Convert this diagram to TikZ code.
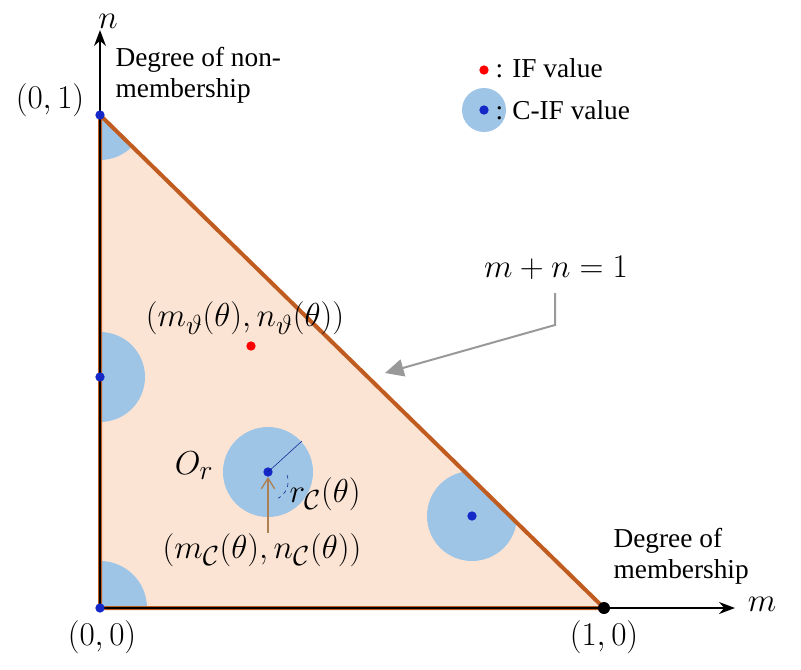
\documentclass[tikz,border=0pt]{standalone}
\usepackage{fontspec}
\setmainfont{Liberation Serif}
\usepackage{amsmath}
\usetikzlibrary{arrows.meta}
\definecolor{peach}{RGB}{252,228,212}
\definecolor{edge}{RGB}{192,92,32}
\definecolor{disc}{RGB}{158,196,230}
\definecolor{dotb}{RGB}{20,40,200}
\tikzset{txt/.style={font=\fontsize{20.5}{23}\selectfont, align=left, inner sep=1pt},
 mth/.style={font=\fontsize{28.5}{31}\selectfont, inner sep=1pt},
 bdot/.style={circle,fill=dotb,inner sep=0pt,minimum size=7pt},
 cdisc/.style={fill=disc}}
\begin{document}
\begin{tikzpicture}[x=0.75pt,y=-0.75pt]
\useasboundingbox (0,0) rectangle (801,669);
\coordinate (O) at (100,608); \coordinate (A) at (604,608); \coordinate (B) at (100,115);
\fill[peach] (O)--(A)--(B)--cycle;
\begin{scope}
\clip (O)--(A)--(B)--cycle;
\fill[cdisc] (100,115) circle (45);
\fill[cdisc] (100,377) circle (45);
\fill[cdisc] (100,608) circle (47);
\fill[cdisc] (472,516) circle (45);
\end{scope}
\fill[cdisc] (268,472) circle (45);
\draw[edge,line width=3pt,line join=round] (O)--(A)--(B)--cycle;
\draw[-{Stealth[length=12pt]},line width=1.2pt] (O)--(100,30) coordinate (nt);
\draw[-{Stealth[length=12pt]},line width=1.2pt] (O)--(735,608) coordinate (mt);
\node[circle,fill=black,inner sep=0pt,minimum size=9pt] (Ad) at (A) {};
\node[bdot] (c0) at (100,115) {};
\node[bdot] (c1) at (100,377) {};
\node[bdot] (c2) at (100,608) {};
\node[bdot] (c3) at (472,516) {};
\node[bdot] (cc) at (268,472) {};
\node[circle,fill=red,inner sep=0pt,minimum size=7pt] (if) at (251,346) {};
\draw[dotb!70!black,thin] (cc.center)--(302,441);
\draw[dotb!70!black,thin,dashed] (287,475) arc[start angle=-20,end angle=62,radius=19];
\node[mth] (nl) at (108,21) {$n$};
\node[mth] (ml) at (762,604) {$m$};
\node[txt,anchor=north west] (dn) at (114,46) {Degree of non-\\membership};
\node[txt,anchor=north west] (dm) at (612,527) {Degree of\\membership};
\node[mth] (p01) at (50,100) {$(0,1)$};
\node[mth] (p00) at (102,637) {$(0,0)$};
\node[mth] (p10) at (604,637) {$(1,0)$};
\node[mth] (mnl) at (556,268) {$m+n=1$};
\draw[gray!80,line width=1.5pt,-{Triangle[length=14pt,width=13pt]}] (555,293)--(555,325)--(385,373);
\node[mth] (ifl) at (245,318) {$(m_\vartheta(\theta),n_\vartheta(\theta))$};
\node[mth] (orl) at (194,466) {$O_r$};
\node[mth,anchor=west] (rl) at (288,494) {$r_{\mathcal C}(\theta)$};
\node[mth] (mcl) at (262,550) {$(m_{\mathcal C}(\theta),n_{\mathcal C}(\theta))$};
\draw[brown!70!gray,line width=1pt,-{Straight Barb[length=8pt,width=10pt]}] (268,533)--(cc.south);
\node[circle,fill=red,inner sep=0pt,minimum size=7pt] (lg1) at (484,70) {};
\node[txt,anchor=west] (lt1) at (494,68) {: IF value};
\fill[cdisc] (484,110) circle (22);
\node[bdot] (lg2) at (484,110) {};
\node[txt,anchor=west] (lt2) at (494,110) {: C-IF value};
\end{tikzpicture}
\end{document}
